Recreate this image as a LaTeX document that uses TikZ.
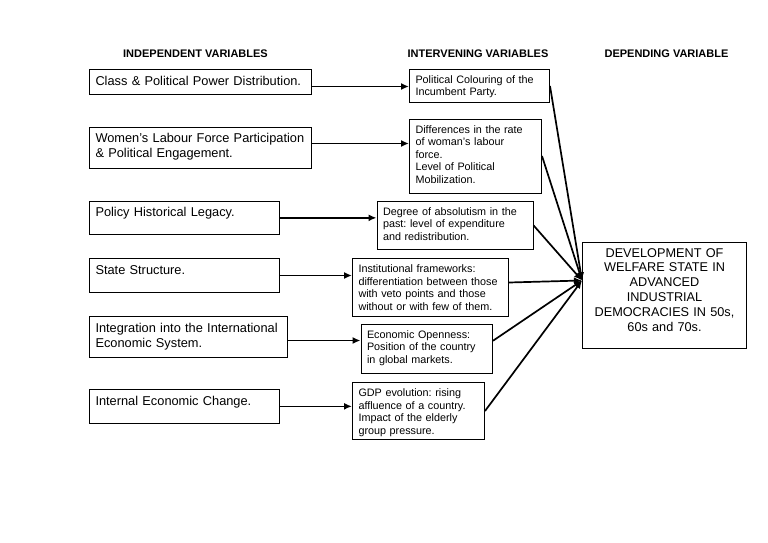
\documentclass[tikz,border=0pt]{standalone}
\usepackage{fontspec}
\setmainfont{Liberation Sans}
\usetikzlibrary{arrows.meta,positioning,calc}
\tikzset{
  colhead/.style={font=\fontsize{11}{13}\selectfont\bfseries, anchor=base},
  indep/.style={draw, line width=1pt, anchor=north west, align=left,
                font=\fontsize{12.8}{15}\selectfont, inner xsep=6pt, inner ysep=4.5pt, text height=11pt},
  interv/.style={draw, line width=1pt, anchor=north west, align=left,
                font=\fontsize{10.8}{12.5}\selectfont, inner xsep=6pt, inner ysep=4pt, text height=10pt},
  depvar/.style={draw, line width=1pt, anchor=north west, align=center,
                font=\fontsize{12.7}{14.8}\selectfont, inner xsep=6pt, inner ysep=4pt, text height=10.5pt},
  flowarr/.style={-{Latex[length=8pt,width=7pt]}, line width=1.7pt},
}
\frenchspacing
\begin{document}
\begin{tikzpicture}[x=1pt, y=-1pt]
  \useasboundingbox[fill=white] (0,0) rectangle (768,543);
  % column headings
  \node[colhead] (hind) at (195.5,57) {INDEPENDENT VARIABLES};
  \node[colhead] (hint) at (478,57) {INTERVENING VARIABLES};
  \node[colhead] (hdep) at (666.5,57) {DEPENDING VARIABLE};
  % independent variables
  \node[indep, text width=210pt, text depth=5pt] (cls) at (89,69) {Class \& Political Power Distribution.};
  \node[indep, text width=210pt, text depth=21pt] (wom) at (89,126.5) {Women's Labour Force Participation\\ \& Political Engagement.};
  \node[indep, text width=178pt, text depth=13.3pt] (leg) at (89,200.7) {Policy Historical Legacy.};
  \node[indep, text width=178pt, text depth=14pt] (sta) at (89,258) {State Structure.};
  \node[indep, text width=185.7pt, text depth=21pt] (intg) at (89,316) {Integration into the International\\ Economic System.};
  \node[indep, text width=178pt, text depth=13.7pt] (iec) at (89,389) {Internal Economic Change.};
  % intervening variables
  \node[interv, text width=128pt, text depth=15pt] (pol) at (409,69) {Political Colouring of the\\ Incumbent Party.};
  \node[interv, text width=120pt, text depth=56pt] (dif) at (409,118.5) {Differences in the rate\\ of woman's labour\\ force.\\ Level of Political\\ Mobilization.};
  \node[interv, text width=144pt, text depth=30.3pt] (deg) at (376.5,200.7) {Degree of absolutism in the\\ past: level of expenditure\\ and redistribution.};
  \node[interv, text width=144pt, text depth=40pt] (ins) at (352,258) {Institutional frameworks:\\ differentiation between those\\ with veto points and those\\ without or with few of them.};
  \node[interv, text width=119.5pt, text depth=31.5pt] (eco) at (360.5,323.5) {Economic Openness:\\ Position of the country\\ in global markets.};
  \node[interv, text width=120pt, text depth=39pt] (gdp) at (352,382) {GDP evolution: rising\\ affluence of a country.\\ Impact of the elderly\\ group pressure.};
  % depending variable
  \node[depvar, text width=152pt, text depth=87.5pt] (dep) at (582,242) {DEVELOPMENT OF\\ WELFARE STATE IN\\ ADVANCED\\ INDUSTRIAL\\ DEMOCRACIES IN 50s,\\ 60s and 70s.};
  \coordinate (hub) at ([yshift=15pt]dep.west);
  % independent -> intervening
  \draw[flowarr] ([yshift=-4.5pt]cls.east) -- ([yshift=-4.5pt]cls.east -| pol.west);
  \draw[flowarr] ([yshift=4pt]wom.east) -- ([yshift=4pt]wom.east -| dif.west);
  \draw[flowarr] (leg.east) -- (leg.east -| deg.west);
  \draw[flowarr] (sta.east) -- (sta.east -| ins.west);
  \draw[flowarr] ([yshift=-3.5pt]intg.east) -- ([yshift=-3.5pt]intg.east -| eco.west);
  \draw[flowarr] (iec.east) -- (iec.east -| gdp.west);
  % intervening -> depending
  \draw[flowarr] (pol.east) -- (hub);
  \draw[flowarr] (dif.east) -- (hub);
  \draw[flowarr] (deg.east) -- (hub);
  \draw[flowarr] ([yshift=5pt]ins.east) -- (hub);
  \draw[flowarr] ([yshift=8pt]eco.east) -- (hub);
  \draw[flowarr] (gdp.east) -- (hub);
\end{tikzpicture}
\end{document}
